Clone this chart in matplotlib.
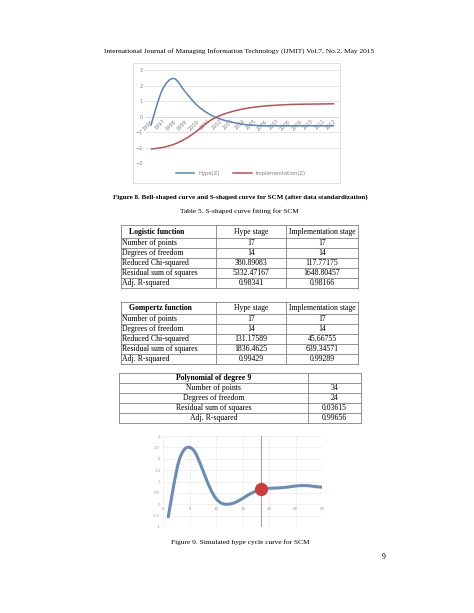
import matplotlib
matplotlib.use('Agg')
import matplotlib.pyplot as plt
from matplotlib.patches import Rectangle, PathPatch
from matplotlib.path import Path
from matplotlib.lines import Line2D

W, H = 474, 613
SERIF = 'Liberation Serif'

# figure 8 data (standardized)
years = [str(y) for y in range(1996, 2013)]
hypeZ = [-0.6, 1.7, 2.45, 1.6, 0.75, 0.2, -0.15, -0.35, -0.5, -0.57, -0.6, -0.6, -0.6, -0.6, -0.6, -0.6, -0.6]
implZ = [-2.1, -2.0, -1.8, -1.45, -0.95, -0.35, 0.05, 0.3, 0.48, 0.6, 0.68, 0.73, 0.77, 0.79, 0.8, 0.81, 0.82]

# figure 9 data
cycleX = list(range(1, 31))
cycleY = [-0.55, 0.8, 1.9, 2.4, 2.5, 2.3, 1.8, 1.2, 0.65, 0.25, 0.05, 0.0, 0.03, 0.12, 0.25,
          0.4, 0.52, 0.62, 0.68, 0.7, 0.71, 0.72, 0.74, 0.77, 0.8, 0.82, 0.82, 0.8, 0.77, 0.75]
markX = [18.5]
markY = [0.66]

# table 5
statRows = ["Number of points", "Degrees of freedom", "Reduced Chi-squared",
            "Residual sum of squares", "Adj. R-squared"]
logisticHype = ["17", "14", "380.89083", "5332.47167", "0.98341"]
logisticImpl = ["17", "14", "117.77175", "1648.80457", "0.98166"]
gompertzHype = ["17", "14", "131.17589", "1836.4625", "0.99429"]
gompertzImpl = ["17", "14", "45.66755", "639.34571", "0.99289"]
polyRows = ["Number of points", "Degrees of freedom", "Residual sum of squares", "Adj. R-squared"]
polyValues = ["34", "24", "0.03615", "0.99656"]


def pxRect(l, t, r, b):
    return [l / W, 1 - b / H, (r - l) / W, (b - t) / H]


def smoothLine(ax, xs, ys, **kw):
    # excel-like smoothed line: cubic bezier through every point
    n = len(xs)
    verts = [(xs[0], ys[0])]
    codes = [Path.MOVETO]
    for i in range(n - 1):
        xa, ya = xs[max(i - 1, 0)], ys[max(i - 1, 0)]
        xb, yb = xs[min(i + 2, n - 1)], ys[min(i + 2, n - 1)]
        c1 = (xs[i] + (xs[i + 1] - xa) / 6, ys[i] + (ys[i + 1] - ya) / 6)
        c2 = (xs[i + 1] - (xb - xs[i]) / 6, ys[i + 1] - (yb - ys[i]) / 6)
        verts += [c1, c2, (xs[i + 1], ys[i + 1])]
        codes += [Path.CURVE4] * 3
    ax.add_patch(PathPatch(Path(verts, codes), fill=False, **kw))


fig = plt.figure(figsize=(W / 100, H / 100), dpi=100)
fig.patch.set_facecolor('white')

page = fig.add_axes([0, 0, 1, 1])
page.set_xlim(0, W)
page.set_ylim(H, 0)
page.axis('off')

txt = dict(family=SERIF, color='black')
page.text(239, 51, "International Journal of Managing Information Technology (IJMIT) Vol.7, No.2, May 2015",
          ha='center', va='center', fontsize=5.3, **txt)
page.text(240, 197, "Figure 8. Bell-shaped curve and S-shaped curve for SCM (after data standardization)",
          ha='center', va='center', fontsize=5.0, fontweight='bold', **txt)
page.text(239, 211, "Table 5. S-shaped curve fitting for SCM", ha='center', va='center', fontsize=5.3, **txt)
page.text(240, 542, "Figure 9. Simulated hype cycle curve for SCM", ha='center', va='center', fontsize=5.3, **txt)
page.text(384, 557, "9", ha='center', va='center', fontsize=5.5, **txt)

# chart frame of figure 8
page.add_patch(Rectangle((133, 63), 207, 120, fill=False, edgecolor='#D9D9D9', lw=0.6))


def drawTable(colEdges, rowEdges, rows, aligns, lineColor='#808080'):
    for y in rowEdges:
        page.plot([colEdges[0], colEdges[-1]], [y, y], color=lineColor, lw=0.6)
    for x in colEdges:
        page.plot([x, x], [rowEdges[0], rowEdges[-1]], color=lineColor, lw=0.6)
    for r, cells in enumerate(rows):
        yc = (rowEdges[r] + rowEdges[r + 1]) / 2
        for c, cell in enumerate(cells):
            x0, x1 = colEdges[c], colEdges[c + 1]
            a = aligns[r == 0][c]
            if a == 'center':
                xt = (x0 + x1) / 2
            elif a == 'indent':
                xt = x0 + 8
                a = 'left'
            else:
                xt = x0 + 1.5
            page.text(xt, yc, cell, ha=a, va='center', fontsize=5.6,
                      fontweight='bold' if (r == 0 and c == 0) else 'normal', **txt)


bodyAlign = ['left', 'center', 'center']
headAlign = ['indent', 'center', 'center']
drawTable([121, 216, 286, 358], [225, 238, 248, 258, 268, 278, 288],
          [["Logistic function", "Hype stage", "Implementation stage"]] +
          [list(t) for t in zip(statRows, logisticHype, logisticImpl)],
          {False: bodyAlign, True: headAlign})
drawTable([121, 216, 286, 358], [302, 314, 324, 334, 344, 354, 364],
          [["Gompertz function", "Hype stage", "Implementation stage"]] +
          [list(t) for t in zip(statRows, gompertzHype, gompertzImpl)],
          {False: bodyAlign, True: headAlign})
drawTable([119, 308, 361], [373, 383, 393, 403, 413, 423],
          [["Polynomial of degree 9", ""]] + [list(t) for t in zip(polyRows, polyValues)],
          {False: ['center', 'center'], True: ['center', 'center']})

# figure 8
ax1 = fig.add_axes(pxRect(145, 70, 340, 163))
idx = list(range(len(years)))
smoothLine(ax1, idx, hypeZ, edgecolor='#5585BD', lw=1.1, zorder=3)
smoothLine(ax1, idx, implZ, edgecolor='#C0504D', lw=1.1, zorder=3)
ax1.set_xlim(-0.5, len(years) - 0.5)
ax1.set_ylim(-3, 3)
ax1.set_yticks(range(-3, 4))
ax1.grid(axis='y', color='#D9D9D9', lw=0.5)
ax1.set_axisbelow(True)
for s in ['top', 'right', 'left']:
    ax1.spines[s].set_visible(False)
ax1.spines['bottom'].set_position(('data', 0))
ax1.spines['bottom'].set_color('#D9D9D9')
ax1.spines['bottom'].set_linewidth(0.5)
ax1.set_xticks(idx)
ax1.set_xticklabels(years, rotation=45, ha='right', rotation_mode='anchor')
ax1.tick_params(length=0, labelsize=3.6, labelcolor='#808080', pad=1.5)
ax1.patch.set_alpha(0)
handles = [Line2D([], [], color='#5585BD', lw=1.1), Line2D([], [], color='#C0504D', lw=1.1)]
ax1.legend(handles, ['Hype(Z)', 'Implementation(Z)'], loc='center',
           bbox_to_anchor=(241 / W, 1 - 173 / H), bbox_transform=fig.transFigure,
           ncol=2, frameon=False, fontsize=3.8, handlelength=3.5, columnspacing=2.5,
           labelcolor='#808080')

# figure 9
ax2 = fig.add_axes(pxRect(163, 436, 322, 527))
ax2.axvline(markX[0], color='#A6A6A6', lw=0.8, zorder=1)
smoothLine(ax2, cycleX, cycleY, edgecolor='#6A8CB8', lw=2.2, capstyle='round', zorder=2)
ax2.plot(markX, markY, 'o', color='#CC3B3B', markersize=8.5, zorder=3)
ax2.set_xlim(0, 30)
ax2.set_ylim(-1, 3)
ax2.set_xticks(range(0, 31, 5))
ax2.set_yticks([-1, -0.5, 0, 0.5, 1, 1.5, 2, 2.5, 3])
ax2.set_yticklabels(['-1', '-0.5', '0', '0.5', '1', '1.5', '2', '2.5', '3'])
ax2.grid(color='#EBEBEB', lw=0.5)
ax2.set_axisbelow(True)
for s in ['top', 'right', 'left']:
    ax2.spines[s].set_visible(False)
ax2.spines['bottom'].set_position(('data', 0))
ax2.spines['bottom'].set_visible(False)
ax2.tick_params(length=0, labelsize=2.8, labelcolor='#9A9A9A', pad=2)
ax2.patch.set_alpha(0)

fig.savefig('out.png', dpi=100, facecolor='white')
